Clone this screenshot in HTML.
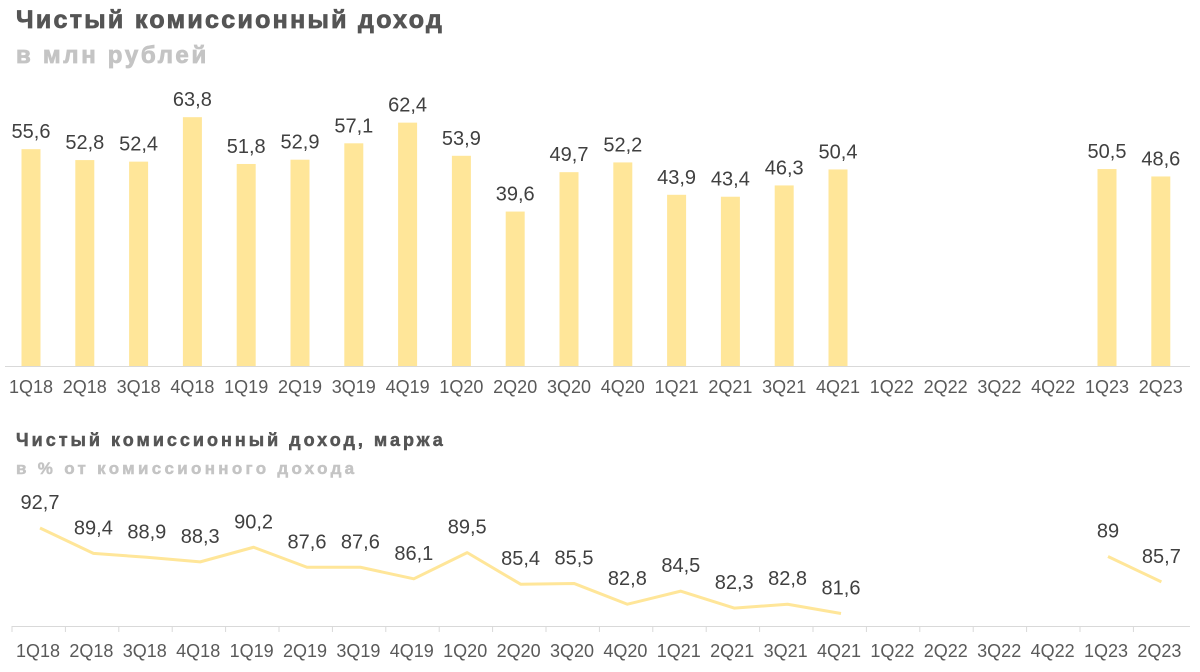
<!DOCTYPE html>
<html><head><meta charset="utf-8"><style>
body{margin:0;background:#fff;width:1200px;height:667px;overflow:hidden;font-family:"Liberation Sans","DejaVu Sans",sans-serif}
svg text{font-family:"Liberation Sans","DejaVu Sans",sans-serif}
</style></head><body>
<svg id="c" width="1200" height="667">
<text x="16" y="28" font-size="25" font-weight="bold" fill="#555" letter-spacing="2.3" stroke="#555" stroke-width="0.8">Чистый комиссионный доход</text>
<text x="16" y="63" font-size="24" font-weight="bold" fill="#c4c4c4" letter-spacing="2.7" stroke="#c4c4c4" stroke-width="0.8">в млн рублей</text>
<text x="16" y="446" font-size="18" font-weight="bold" fill="#555" letter-spacing="3" stroke="#555" stroke-width="0.5">Чистый комиссионный доход, маржа</text>
<text x="16" y="474" font-size="17" font-weight="bold" fill="#c4c4c4" letter-spacing="3.3" stroke="#c4c4c4" stroke-width="0.5">в % от комиссионного дохода</text>
<line x1="5" y1="366.5" x2="1190" y2="366.5" stroke="#d9d9d9"/>
<line x1="12" y1="626.5" x2="1190" y2="626.5" stroke="#d9d9d9"/>
<g id="bars"></g><g id="line"></g>
</svg>
<script>
const categories=["1Q18","2Q18","3Q18","4Q18","1Q19","2Q19","3Q19","4Q19","1Q20","2Q20","3Q20","4Q20","1Q21","2Q21","3Q21","4Q21","1Q22","2Q22","3Q22","4Q22","1Q23","2Q23"];
const incomeValues=[55.6,52.8,52.4,63.8,51.8,52.9,57.1,62.4,53.9,39.6,49.7,52.2,43.9,43.4,46.3,50.4,null,null,null,null,50.5,48.6];
const marginValues=[92.7,89.4,88.9,88.3,90.2,87.6,87.6,86.1,89.5,85.4,85.5,82.8,84.5,82.3,82.8,81.6,null,null,null,null,89,85.7];
const NS="http://www.w3.org/2000/svg";
const fmt=v=>String(v).replace('.',',');
const bx=i=>31+i*53.8, by=v=>366-v*3.9;
const lx=i=>40+i*53.4, ly=v=>528+(92.7-v)*7.7;
function mk(tag,attrs,parent){const e=document.createElementNS(NS,tag);for(const k in attrs)e.setAttribute(k,attrs[k]);parent.appendChild(e);return e;}
const gb=document.getElementById('bars'), gl=document.getElementById('line');
categories.forEach((c,i)=>{
  let t=mk('text',{x:bx(i),y:393,'font-size':18,fill:'#595959','text-anchor':'middle'},gb);t.textContent=c;
  
  
  let t2=mk('text',{x:lx(i)-2,y:657,'font-size':18,fill:'#595959','text-anchor':'middle'},gl);t2.textContent=c;
  
  
  let tk=mk('line',{x1:12+i*53.4,y1:626,x2:12+i*53.4,y2:632,stroke:'#d9d9d9'},gl);
  
  
  const v=incomeValues[i];
  if(v!=null){
    let r=mk('rect',{x:bx(i)-9.5,y:by(v),width:19,height:366-by(v),fill:'#ffe699'},gb);
    
    
    let l=mk('text',{x:bx(i),y:by(v)-11,'font-size':20,fill:'#404040','text-anchor':'middle'},gb);l.textContent=fmt(v);
    
    
  }
  const m=marginValues[i];
  if(m!=null){
    let l=mk('text',{x:lx(i),y:ly(m)-19,'font-size':20,fill:'#404040','text-anchor':'middle'},gl);l.textContent=fmt(m);
    
    
  }
});
let seg=[];const segs=[];
marginValues.forEach((m,i)=>{if(m==null){if(seg.length)segs.push(seg);seg=[];}else seg.push(lx(i)+','+ly(m));});
if(seg.length)segs.push(seg);
segs.forEach(s=>{
  let p=mk('polyline',{points:s.join(' '),fill:'none',stroke:'#ffe699','stroke-width':3,'stroke-linejoin':'round'},gl);
  
  
});
</script>
</body></html>
